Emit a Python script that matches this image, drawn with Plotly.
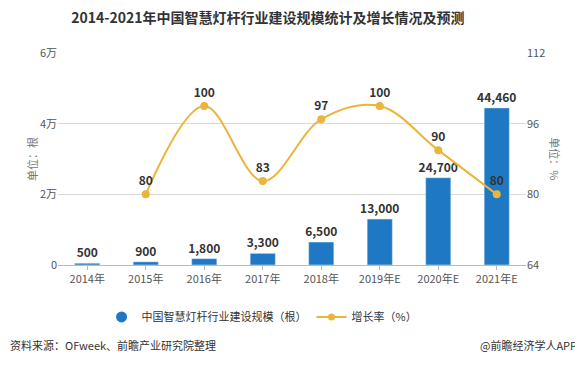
import plotly.graph_objects as go

categories = ["2014年", "2015年", "2016年", "2017年", "2018年", "2019年E", "2020年E", "2021年E"]
scale_values = [500, 900, 1800, 3300, 6500, 13000, 24700, 44460]
growth_values = [None, 80, 100, 83, 97, 100, 90, 80]
left_tick_vals = [0, 20000, 40000, 60000]
left_tick_text = ["0", "2万", "4万", "6万"]
right_tick_vals = [64, 80, 96, 112]

BLUE = "#1F78C4"
GOLD = "#EBB43A"
FONT = "Noto Sans CJK SC"

fig = go.Figure()
fig.add_trace(go.Bar(
    x=categories, y=scale_values, marker_color=BLUE, width=0.43,
    texttemplate="<b>%{y:,}</b>", textposition="outside", constraintext="none",
    textfont=dict(size=12, color="#333333", family=FONT),
    cliponaxis=False, showlegend=False, yaxis="y"))
fig.add_trace(go.Scatter(
    x=categories, y=growth_values, mode="lines+markers+text",
    line=dict(color=GOLD, width=2, shape="spline", smoothing=1.0),
    marker=dict(color=GOLD, size=8),
    text=["" if v is None else f"<b>{v}</b>" for v in growth_values],
    textposition="top center",
    textfont=dict(size=12, color="#333333", family=FONT),
    cliponaxis=False, showlegend=False, yaxis="y2", connectgaps=False))
# legend entries
fig.add_trace(go.Scatter(x=[None], y=[None], mode="markers", name="中国智慧灯杆行业建设规模（根）",
                         marker=dict(color=BLUE, size=11, symbol="circle"), yaxis="y"))
fig.add_trace(go.Scatter(x=[None], y=[None], mode="lines+markers", name="增长率（%）",
                         line=dict(color=GOLD, width=2), marker=dict(color=GOLD, size=7), yaxis="y2"))

fig.update_layout(
    width=575, height=358,
    margin=dict(l=50, r=57, t=45, b=101, autoexpand=False),
    paper_bgcolor="white", plot_bgcolor="white",
    font=dict(family=FONT, size=11, color="#555555"),
    title=dict(text="<b>2014-2021年中国智慧灯杆行业建设规模统计及增长情况及预测</b>",
               xref="container", x=0.452, xanchor="center", y=0.972, yanchor="middle",
               font=dict(size=14, color="#333333", family=FONT)),
    xaxis=dict(type="category", showgrid=False, showline=True, linecolor="#BBBBBB",
               ticks="outside", ticklen=4, tickcolor="#BBBBBB", automargin=False,
               tickfont=dict(size=11, color="#555555")),
    yaxis=dict(range=[0, 60000], tickvals=left_tick_vals, ticktext=left_tick_text,
               showgrid=True, gridcolor="#D9D9D9", zeroline=False, showline=False,
               automargin=False, tickfont=dict(size=11, color="#555555"), ticklen=0),
    yaxis2=dict(range=[64, 112], tickvals=right_tick_vals, overlaying="y", side="right",
                showgrid=False, zeroline=False, showline=False, automargin=False,
                tickfont=dict(size=11, color="#555555")),
    legend=dict(orientation="h", x=0.436, xanchor="center", yref="container", y=0.137,
                yanchor="middle", font=dict(size=11, color="#333333"), itemwidth=30),
)
fig.add_annotation(text="单位：根", x=-0.077, y=0.5, xref="paper", yref="paper",
                   textangle=-90, showarrow=False, font=dict(size=11, color="#777777"))
fig.add_annotation(text="单位：%", x=1.083, y=0.5, xref="paper", yref="paper",
                   textangle=90, showarrow=False, font=dict(size=11, color="#777777"))
fig.add_annotation(text="资料来源：OFweek、前瞻产业研究院整理", x=-0.107, y=-0.377,
                   xref="paper", yref="paper", xanchor="left", yanchor="middle",
                   showarrow=False, font=dict(size=11, color="#333333"))
fig.add_annotation(text="@前瞻经济学人APP", x=1.113, y=-0.377,
                   xref="paper", yref="paper", xanchor="right", yanchor="middle",
                   showarrow=False, font=dict(size=11, color="#333333"))

fig.write_html("out.html")
